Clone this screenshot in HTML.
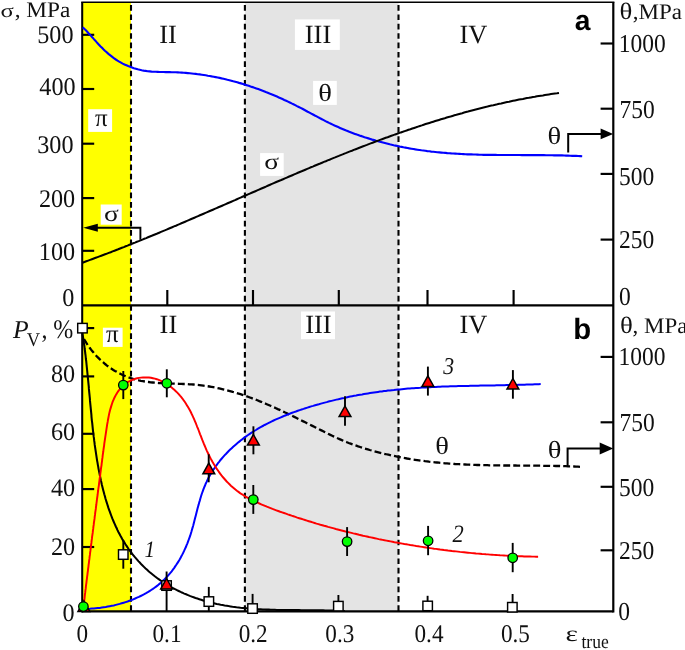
<!DOCTYPE html>
<html><head><meta charset="utf-8"><title>Figure</title>
<style>html,body{margin:0;padding:0;background:#fff}svg{display:block}</style>
</head><body>
<svg width="685" height="650" viewBox="0 0 685 650" text-rendering="geometricPrecision">
<rect width="685" height="650" fill="#fff"/>
<rect x="82.2" y="2.2" width="48.8" height="609.2" fill="#ffff00"/>
<rect x="244.9" y="2.2" width="153.6" height="609.2" fill="#e4e4e4"/>
<rect x="294.9" y="19.4" width="44.9" height="30.5" fill="#fff"/>
<rect x="88.2" y="109.2" width="23.9" height="22.7" fill="#fff"/>
<rect x="313.1" y="80.9" width="23.7" height="24.0" fill="#fff"/>
<rect x="260.1" y="153.1" width="23.6" height="22.8" fill="#fff"/>
<rect x="100.7" y="204.5" width="21.0" height="20.2" fill="#fff"/>
<rect x="301.0" y="311.5" width="34.0" height="27.7" fill="#fff"/>
<rect x="102.9" y="327.7" width="19.7" height="19.2" fill="#fff"/>
<line x1="131.0" y1="5" x2="131.0" y2="611.4" stroke="#000" stroke-width="2.1" stroke-dasharray="5.7 3.68"/>
<line x1="244.9" y1="5" x2="244.9" y2="611.4" stroke="#000" stroke-width="2.1" stroke-dasharray="5.7 3.68"/>
<line x1="398.5" y1="5" x2="398.5" y2="611.4" stroke="#000" stroke-width="2.1" stroke-dasharray="5.7 3.68"/>
<g stroke="#000" stroke-width="2.15" fill="none">
<path d="M81.2 2.2 H614.4" stroke-width="1.5"/>
<path d="M82.2 2.2 V612.5" stroke-width="2.05"/>
<path d="M613.3 2.2 V612.5" stroke-width="2.2"/>
<path d="M82.2 611.4 H613.3" stroke-width="2.2"/>
<path d="M82.2 305.4 H613.3" stroke-width="2.3"/>
<path d="M82.2 34.8 h12"/>
<path d="M82.2 89.0 h12"/>
<path d="M82.2 143.7 h12"/>
<path d="M82.2 198.1 h12"/>
<path d="M82.2 250.8 h12"/>
<path d="M82.2 328.1 h12"/>
<path d="M82.2 376.4 h12"/>
<path d="M82.2 433.8 h12"/>
<path d="M82.2 489.1 h12"/>
<path d="M82.2 547.0 h12"/>
<path d="M613.3 43.5 h-12.7"/>
<path d="M613.3 108.7 h-12.7"/>
<path d="M613.3 173.9 h-12.7"/>
<path d="M613.3 239.6 h-12.7"/>
<path d="M613.3 356.9 h-12.7"/>
<path d="M613.3 422.3 h-12.7"/>
<path d="M613.3 486.8 h-12.7"/>
<path d="M613.3 550.3 h-12.7"/>
<path d="M167.3 305.3 v-15.3"/>
<path d="M253.0 305.3 v-15.3"/>
<path d="M338.8 305.3 v-15.3"/>
<path d="M427.5 305.3 v-15.3"/>
<path d="M513.6 305.3 v-15.3"/>
</g>
<path d="M82.8 27.3 L84.2 28.7 L85.6 30.1 L87.0 31.5 L88.3 33.0 L89.7 34.4 L91.0 35.9 L92.4 37.4 L93.7 38.9 L95.1 40.4 L96.4 41.9 L97.8 43.4 L99.2 44.9 L100.6 46.4 L102.0 47.8 L103.4 49.3 L104.9 50.7 L106.4 52.0 L107.9 53.4 L109.4 54.7 L111.0 55.9 L112.6 57.2 L114.2 58.4 L115.8 59.5 L117.5 60.6 L119.2 61.6 L121.0 62.6 L122.7 63.6 L124.5 64.5 L126.4 65.3 L128.2 66.1 L130.1 66.8 L132.0 67.5 L133.9 68.2 L135.8 68.7 L137.7 69.3 L139.7 69.7 L141.7 70.2 L143.6 70.6 L145.6 70.9 L147.6 71.2 L149.6 71.4 L151.6 71.6 L153.6 71.7 L155.7 71.8 L157.7 71.9 L159.7 72.0 L161.7 72.0 L163.7 72.0 L165.7 72.1 L167.8 72.1 L169.8 72.1 L171.8 72.2 L173.8 72.2 L175.8 72.3 L177.8 72.4 L179.8 72.5 L181.8 72.6 L183.8 72.8 L185.8 72.9 L187.8 73.1 L189.8 73.3 L191.8 73.5 L193.8 73.7 L195.8 73.9 L197.8 74.2 L199.8 74.4 L201.8 74.7 L203.8 75.0 L205.8 75.3 L207.8 75.7 L209.7 76.0 L211.7 76.4 L213.7 76.7 L215.7 77.1 L217.6 77.5 L219.6 77.9 L221.6 78.4 L223.5 78.8 L225.5 79.3 L227.4 79.8 L229.4 80.2 L231.3 80.7 L233.3 81.3 L235.2 81.8 L237.2 82.3 L239.1 82.9 L241.0 83.4 L243.0 84.0 L244.9 84.6 L246.8 85.2 L248.7 85.8 L250.6 86.5 L252.5 87.1 L254.4 87.8 L256.3 88.4 L258.2 89.1 L260.1 89.8 L262.0 90.5 L263.9 91.2 L265.8 92.0 L267.7 92.7 L269.5 93.5 L271.4 94.2 L273.3 95.0 L275.1 95.8 L277.0 96.6 L278.8 97.4 L280.7 98.2 L282.5 99.0 L284.3 99.9 L286.2 100.7 L288.0 101.6 L289.8 102.5 L291.6 103.4 L293.4 104.2 L295.2 105.1 L297.0 106.1 L298.8 107.0 L300.6 107.9 L302.4 108.8 L304.2 109.8 L305.9 110.7 L307.7 111.7 L309.5 112.6 L311.3 113.6 L313.0 114.5 L314.8 115.5 L316.6 116.4 L318.4 117.4 L320.1 118.3 L321.9 119.2 L323.7 120.1 L325.5 121.1 L327.3 122.0 L329.1 122.9 L330.9 123.7 L332.7 124.6 L334.5 125.5 L336.3 126.3 L338.2 127.1 L340.0 127.9 L341.9 128.7 L343.7 129.5 L345.6 130.3 L347.5 131.0 L349.3 131.8 L351.2 132.5 L353.1 133.2 L355.0 133.9 L356.9 134.6 L358.8 135.2 L360.7 135.9 L362.6 136.5 L364.5 137.2 L366.4 137.8 L368.4 138.4 L370.3 139.0 L372.2 139.6 L374.2 140.1 L376.1 140.7 L378.0 141.2 L380.0 141.8 L381.9 142.3 L383.9 142.8 L385.8 143.3 L387.8 143.8 L389.7 144.3 L391.7 144.7 L393.7 145.2 L395.6 145.6 L397.6 146.0 L399.6 146.5 L401.5 146.9 L403.5 147.3 L405.5 147.6 L407.5 148.0 L409.4 148.4 L411.4 148.7 L413.4 149.0 L415.4 149.4 L417.4 149.7 L419.4 150.0 L421.4 150.3 L423.4 150.5 L425.3 150.8 L427.3 151.1 L429.3 151.3 L431.3 151.6 L433.3 151.8 L435.3 152.0 L437.3 152.2 L439.3 152.4 L441.3 152.6 L443.3 152.8 L445.3 152.9 L447.3 153.1 L449.3 153.2 L451.3 153.4 L453.3 153.5 L455.3 153.6 L457.4 153.8 L459.4 153.9 L461.4 154.0 L463.4 154.1 L465.4 154.2 L467.4 154.3 L469.4 154.3 L471.4 154.4 L473.4 154.5 L475.4 154.5 L477.5 154.6 L479.5 154.7 L481.5 154.7 L483.5 154.8 L485.5 154.8 L487.5 154.8 L489.6 154.9 L491.6 154.9 L493.6 154.9 L495.6 154.9 L497.6 155.0 L499.6 155.0 L501.7 155.0 L503.7 155.0 L505.7 155.0 L507.7 155.0 L509.7 155.0 L511.7 155.0 L513.8 155.0 L515.8 155.0 L517.8 155.0 L519.8 155.0 L521.8 155.1 L523.8 155.1 L525.9 155.1 L527.9 155.1 L529.9 155.1 L531.9 155.1 L533.9 155.1 L535.9 155.1 L538.0 155.1 L540.0 155.1 L542.0 155.1 L544.0 155.1 L546.0 155.2 L548.0 155.2 L550.0 155.2 L552.1 155.2 L554.1 155.3 L556.1 155.3 L558.1 155.3 L560.1 155.4 L562.1 155.4 L564.1 155.5 L566.1 155.6 L568.1 155.6 L570.1 155.7 L572.2 155.8 L574.2 155.8 L576.2 155.9 L578.2 156.0 L580.2 156.1 L582.2 156.2" fill="none" stroke="#0000ff" stroke-width="2.15"/>
<path d="M82.5 262.7 L84.4 262.0 L86.3 261.3 L88.2 260.6 L90.1 259.9 L91.9 259.2 L93.8 258.5 L95.7 257.8 L97.6 257.1 L99.5 256.4 L101.3 255.7 L103.2 255.0 L105.1 254.3 L107.0 253.6 L108.8 252.9 L110.7 252.2 L112.6 251.4 L114.5 250.7 L116.3 250.0 L118.2 249.3 L120.1 248.5 L121.9 247.8 L123.8 247.1 L125.7 246.3 L127.5 245.6 L129.4 244.8 L131.3 244.1 L133.1 243.3 L135.0 242.6 L136.9 241.8 L138.7 241.1 L140.6 240.3 L142.4 239.6 L144.3 238.8 L146.2 238.1 L148.0 237.3 L149.9 236.5 L151.7 235.8 L153.6 235.0 L155.5 234.2 L157.3 233.5 L159.2 232.7 L161.0 231.9 L162.9 231.1 L164.7 230.4 L166.6 229.6 L168.5 228.8 L170.3 228.0 L172.2 227.2 L174.0 226.4 L175.9 225.7 L177.7 224.9 L179.6 224.1 L181.4 223.3 L183.3 222.5 L185.1 221.7 L187.0 220.9 L188.8 220.1 L190.7 219.3 L192.5 218.5 L194.4 217.7 L196.2 216.9 L198.1 216.1 L199.9 215.3 L201.8 214.5 L203.6 213.7 L205.5 212.9 L207.3 212.1 L209.2 211.3 L211.0 210.5 L212.9 209.7 L214.7 208.9 L216.6 208.1 L218.4 207.3 L220.3 206.5 L222.1 205.7 L224.0 204.9 L225.8 204.1 L227.6 203.3 L229.5 202.5 L231.3 201.7 L233.2 200.9 L235.0 200.1 L236.9 199.2 L238.7 198.4 L240.6 197.6 L242.4 196.8 L244.3 196.0 L246.1 195.2 L248.0 194.4 L249.8 193.6 L251.7 192.8 L253.5 192.0 L255.4 191.2 L257.2 190.4 L259.0 189.6 L260.9 188.8 L262.7 188.0 L264.6 187.2 L266.4 186.4 L268.3 185.5 L270.1 184.7 L272.0 183.9 L273.8 183.1 L275.7 182.3 L277.5 181.5 L279.4 180.7 L281.2 180.0 L283.1 179.2 L284.9 178.4 L286.8 177.6 L288.6 176.8 L290.5 176.0 L292.4 175.2 L294.2 174.4 L296.1 173.6 L297.9 172.8 L299.8 172.0 L301.6 171.3 L303.5 170.5 L305.3 169.7 L307.2 168.9 L309.1 168.1 L310.9 167.3 L312.8 166.6 L314.6 165.8 L316.5 165.0 L318.3 164.2 L320.2 163.5 L322.1 162.7 L323.9 161.9 L325.8 161.2 L327.6 160.4 L329.5 159.7 L331.4 158.9 L333.2 158.1 L335.1 157.4 L337.0 156.6 L338.8 155.9 L340.7 155.1 L342.6 154.4 L344.4 153.6 L346.3 152.9 L348.2 152.1 L350.0 151.4 L351.9 150.7 L353.8 149.9 L355.7 149.2 L357.5 148.5 L359.4 147.7 L361.3 147.0 L363.2 146.3 L365.0 145.6 L366.9 144.9 L368.8 144.1 L370.7 143.4 L372.6 142.7 L374.4 142.0 L376.3 141.3 L378.2 140.6 L380.1 139.9 L382.0 139.2 L383.9 138.5 L385.7 137.8 L387.6 137.2 L389.5 136.5 L391.4 135.8 L393.3 135.1 L395.2 134.4 L397.1 133.8 L399.0 133.1 L400.9 132.4 L402.8 131.8 L404.7 131.1 L406.6 130.5 L408.5 129.8 L410.4 129.2 L412.3 128.5 L414.2 127.9 L416.1 127.3 L418.0 126.6 L419.9 126.0 L421.8 125.4 L423.7 124.7 L425.6 124.1 L427.5 123.5 L429.4 122.9 L431.4 122.3 L433.3 121.7 L435.2 121.1 L437.1 120.5 L439.0 119.9 L440.9 119.3 L442.9 118.7 L444.8 118.2 L446.7 117.6 L448.6 117.0 L450.6 116.5 L452.5 115.9 L454.4 115.3 L456.4 114.8 L458.3 114.2 L460.2 113.7 L462.2 113.2 L464.1 112.6 L466.0 112.1 L468.0 111.6 L469.9 111.0 L471.9 110.5 L473.8 110.0 L475.7 109.5 L477.7 109.0 L479.6 108.5 L481.6 108.0 L483.5 107.5 L485.5 107.0 L487.5 106.6 L489.4 106.1 L491.4 105.6 L493.3 105.2 L495.3 104.7 L497.3 104.3 L499.2 103.8 L501.2 103.4 L503.2 102.9 L505.1 102.5 L507.1 102.1 L509.1 101.7 L511.1 101.2 L513.0 100.8 L515.0 100.4 L517.0 100.0 L519.0 99.6 L521.0 99.2 L522.9 98.9 L524.9 98.5 L526.9 98.1 L528.9 97.8 L530.9 97.4 L532.9 97.0 L534.9 96.7 L536.9 96.3 L538.9 96.0 L540.9 95.7 L542.9 95.4 L544.9 95.0 L546.9 94.7 L548.9 94.4 L551.0 94.1 L553.0 93.8 L555.0 93.5 L557.0 93.3 L559.0 93.0" fill="none" stroke="#000" stroke-width="2.05"/>
<path d="M140.4 239.6 V227.7 H96" fill="none" stroke="#000" stroke-width="1.9"/>
<path d="M83.2 227.7 L97.8 223.7 V231.7 Z" fill="#000"/>
<path d="M568.2 152.5 V133.9 H602" fill="none" stroke="#000" stroke-width="2"/>
<path d="M613.2 133.9 L600.6 128.6 V139.2 Z" fill="#000"/>
<path d="M84.0 339.1 L85.1 340.9 L86.2 342.7 L87.3 344.4 L88.5 346.1 L89.7 347.8 L90.9 349.4 L92.2 351.1 L93.5 352.6 L94.8 354.2 L96.2 355.7 L97.6 357.2 L99.1 358.6 L100.5 360.0 L102.0 361.4 L103.6 362.7 L105.1 364.0 L106.7 365.3 L108.3 366.5 L110.0 367.7 L111.6 368.8 L113.3 369.9 L115.0 370.9 L116.8 371.9 L118.5 372.9 L120.3 373.8 L122.1 374.7 L123.9 375.5 L125.7 376.3 L127.6 377.0 L129.4 377.7 L131.3 378.3 L133.2 378.9 L135.1 379.4 L137.0 379.9 L138.9 380.4 L140.9 380.8 L142.8 381.1 L144.8 381.5 L146.8 381.8 L148.7 382.0 L150.7 382.3 L152.7 382.5 L154.7 382.7 L156.7 382.8 L158.7 383.0 L160.8 383.1 L162.8 383.2 L164.8 383.3 L166.9 383.4 L168.9 383.5 L170.9 383.6 L173.0 383.6 L175.0 383.7 L177.1 383.7 L179.1 383.8 L181.2 383.9 L183.2 384.0 L185.2 384.0 L187.3 384.1 L189.3 384.3 L191.4 384.4 L193.4 384.5 L195.4 384.7 L197.4 384.9 L199.4 385.1 L201.4 385.3 L203.4 385.6 L205.4 385.9 L207.4 386.2 L209.4 386.5 L211.4 386.8 L213.3 387.2 L215.3 387.6 L217.3 388.0 L219.2 388.4 L221.2 388.8 L223.1 389.3 L225.1 389.8 L227.0 390.3 L229.0 390.8 L230.9 391.3 L232.8 391.9 L234.7 392.4 L236.6 393.0 L238.6 393.6 L240.5 394.2 L242.4 394.8 L244.3 395.5 L246.2 396.1 L248.0 396.8 L249.9 397.5 L251.8 398.2 L253.7 398.9 L255.6 399.6 L257.4 400.3 L259.3 401.1 L261.2 401.8 L263.0 402.6 L264.9 403.4 L266.8 404.2 L268.6 405.0 L270.5 405.8 L272.3 406.6 L274.2 407.4 L276.0 408.2 L277.8 409.1 L279.7 409.9 L281.5 410.8 L283.3 411.6 L285.2 412.5 L287.0 413.3 L288.8 414.2 L290.6 415.1 L292.5 416.0 L294.3 416.9 L296.1 417.8 L297.9 418.7 L299.7 419.6 L301.5 420.5 L303.3 421.4 L305.2 422.3 L307.0 423.2 L308.8 424.1 L310.6 425.0 L312.4 425.9 L314.2 426.8 L316.0 427.7 L317.8 428.6 L319.6 429.5 L321.4 430.4 L323.2 431.3 L325.0 432.2 L326.8 433.1 L328.6 434.0 L330.4 434.9 L332.2 435.7 L334.0 436.6 L335.8 437.4 L337.7 438.3 L339.5 439.1 L341.3 439.9 L343.2 440.7 L345.0 441.5 L346.9 442.2 L348.7 443.0 L350.6 443.7 L352.5 444.4 L354.4 445.1 L356.3 445.7 L358.2 446.4 L360.1 447.0 L362.0 447.7 L363.9 448.3 L365.8 448.8 L367.8 449.4 L369.7 450.0 L371.6 450.5 L373.6 451.1 L375.5 451.6 L377.5 452.1 L379.4 452.6 L381.4 453.1 L383.4 453.6 L385.3 454.0 L387.3 454.5 L389.3 454.9 L391.2 455.4 L393.2 455.8 L395.2 456.2 L397.2 456.6 L399.2 457.0 L401.1 457.4 L403.1 457.8 L405.1 458.1 L407.1 458.5 L409.1 458.8 L411.1 459.2 L413.1 459.5 L415.1 459.8 L417.1 460.1 L419.0 460.4 L421.0 460.7 L423.0 460.9 L425.0 461.2 L427.0 461.4 L429.0 461.7 L431.0 461.9 L433.0 462.1 L435.0 462.3 L437.0 462.5 L439.0 462.7 L441.1 462.9 L443.1 463.1 L445.1 463.3 L447.1 463.4 L449.1 463.6 L451.1 463.7 L453.1 463.8 L455.1 464.0 L457.1 464.1 L459.1 464.2 L461.1 464.3 L463.1 464.4 L465.1 464.5 L467.2 464.6 L469.2 464.7 L471.2 464.8 L473.2 464.8 L475.2 464.9 L477.2 465.0 L479.2 465.0 L481.2 465.1 L483.3 465.1 L485.3 465.2 L487.3 465.2 L489.3 465.3 L491.3 465.3 L493.3 465.3 L495.3 465.4 L497.4 465.4 L499.4 465.4 L501.4 465.4 L503.4 465.5 L505.4 465.5 L507.4 465.5 L509.5 465.5 L511.5 465.5 L513.5 465.5 L515.5 465.5 L517.5 465.6 L519.5 465.6 L521.6 465.6 L523.6 465.6 L525.6 465.6 L527.6 465.6 L529.6 465.6 L531.6 465.6 L533.7 465.7 L535.7 465.7 L537.7 465.7 L539.7 465.7 L541.7 465.7 L543.7 465.8 L545.8 465.8 L547.8 465.8 L549.8 465.8 L551.8 465.9 L553.8 465.9 L555.8 466.0 L557.9 466.0 L559.9 466.0 L561.9 466.1 L563.9 466.2 L565.9 466.2 L567.9 466.3 L569.9 466.4 L571.9 466.4 L574.0 466.5 L576.0 466.6 L578.0 466.7 L580.0 466.8" fill="none" stroke="#000" stroke-width="2.3" stroke-dasharray="6.90 3.09"/>
<path d="M82.4 333.0 L82.7 335.0 L83.0 337.0 L83.3 339.0 L83.6 341.0 L83.9 343.0 L84.2 345.0 L84.5 347.0 L84.7 349.0 L85.0 351.0 L85.2 353.0 L85.5 355.0 L85.7 357.0 L85.9 359.0 L86.2 361.0 L86.4 363.0 L86.6 365.0 L86.8 367.0 L87.0 369.0 L87.2 371.0 L87.4 373.0 L87.6 375.0 L87.8 377.0 L88.0 379.0 L88.2 381.0 L88.4 383.0 L88.6 385.0 L88.8 386.9 L88.9 388.9 L89.1 390.9 L89.3 392.9 L89.5 394.9 L89.7 396.9 L89.9 398.9 L90.0 400.9 L90.2 402.9 L90.4 404.9 L90.6 406.9 L90.8 408.9 L91.0 410.9 L91.2 412.9 L91.4 414.8 L91.5 416.8 L91.7 418.8 L91.9 420.8 L92.2 422.8 L92.4 424.8 L92.6 426.8 L92.8 428.8 L93.0 430.8 L93.3 432.8 L93.5 434.8 L93.7 436.7 L94.0 438.7 L94.2 440.7 L94.5 442.7 L94.7 444.7 L95.0 446.7 L95.3 448.7 L95.6 450.7 L95.9 452.7 L96.2 454.6 L96.5 456.6 L96.8 458.6 L97.1 460.6 L97.5 462.6 L97.8 464.6 L98.2 466.6 L98.5 468.6 L98.9 470.6 L99.3 472.6 L99.7 474.5 L100.1 476.5 L100.5 478.5 L100.9 480.5 L101.4 482.5 L101.8 484.5 L102.3 486.4 L102.8 488.4 L103.3 490.4 L103.8 492.3 L104.3 494.3 L104.9 496.3 L105.4 498.2 L106.0 500.2 L106.6 502.1 L107.2 504.0 L107.8 505.9 L108.4 507.9 L109.1 509.8 L109.8 511.7 L110.5 513.6 L111.2 515.5 L111.9 517.3 L112.6 519.2 L113.4 521.0 L114.2 522.9 L115.0 524.7 L115.8 526.5 L116.7 528.3 L117.5 530.1 L118.4 531.9 L119.4 533.7 L120.3 535.5 L121.3 537.2 L122.2 538.9 L123.2 540.6 L124.3 542.3 L125.3 544.0 L126.4 545.7 L127.5 547.3 L128.6 549.0 L129.8 550.6 L131.0 552.2 L132.2 553.8 L133.4 555.3 L134.7 556.9 L136.0 558.4 L137.3 559.9 L138.6 561.4 L140.0 562.8 L141.3 564.3 L142.8 565.7 L144.2 567.1 L145.6 568.5 L147.1 569.8 L148.6 571.2 L150.1 572.5 L151.7 573.8 L153.2 575.0 L154.8 576.3 L156.4 577.5 L158.0 578.7 L159.7 579.9 L161.3 581.0 L163.0 582.1 L164.7 583.2 L166.4 584.3 L168.1 585.3 L169.8 586.3 L171.6 587.3 L173.4 588.3 L175.1 589.2 L176.9 590.1 L178.7 591.0 L180.6 591.9 L182.4 592.7 L184.2 593.6 L186.1 594.3 L188.0 595.1 L189.8 595.9 L191.7 596.6 L193.6 597.3 L195.5 598.0 L197.4 598.6 L199.3 599.2 L201.2 599.8 L203.1 600.4 L205.1 601.0 L207.0 601.5 L208.9 602.0 L210.9 602.5 L212.8 603.0 L214.8 603.4 L216.7 603.9 L218.7 604.3 L220.6 604.7 L222.6 605.0 L224.6 605.4 L226.6 605.7 L228.6 606.1 L230.5 606.4 L232.5 606.7 L234.5 606.9 L236.5 607.2 L238.5 607.4 L240.5 607.7 L242.5 607.9 L244.5 608.1 L246.5 608.3 L248.5 608.5 L250.6 608.6 L252.6 608.8 L254.6 608.9 L256.6 609.0 L258.6 609.2 L260.7 609.3 L262.7 609.4 L264.7 609.5 L266.7 609.6 L268.8 609.6 L270.8 609.7 L272.8 609.8 L274.8 609.8 L276.9 609.9 L278.9 609.9 L280.9 610.0 L282.9 610.0 L285.0 610.0 L287.0 610.1 L289.0 610.1 L291.0 610.1 L293.1 610.1 L295.1 610.1 L297.1 610.1 L299.1 610.1 L301.2 610.2 L303.2 610.2 L305.2 610.2 L307.2 610.2 L309.2 610.2 L311.2 610.2 L313.2 610.2 L315.2 610.2 L317.2 610.3 L319.2 610.3 L321.2 610.3 L323.2 610.3 L325.2 610.4 L327.2 610.4 L329.1 610.5 L331.1 610.5 L333.1 610.6 L335.0 610.6 L337.0 610.7 L339.0 610.8 L340.9 610.9 L342.9 611.0 L344.8 611.1" fill="none" stroke="#000" stroke-width="2.05"/>
<path d="M84.1 609.0 L86.0 608.9 L87.9 608.9 L89.9 608.8 L91.9 608.6 L93.8 608.5 L95.8 608.3 L97.8 608.1 L99.8 607.9 L101.8 607.6 L103.8 607.3 L105.8 607.0 L107.8 606.6 L109.8 606.2 L111.8 605.8 L113.8 605.4 L115.8 604.9 L117.8 604.4 L119.7 603.9 L121.7 603.3 L123.7 602.7 L125.6 602.1 L127.6 601.5 L129.5 600.8 L131.4 600.1 L133.3 599.3 L135.2 598.5 L137.0 597.7 L138.9 596.9 L140.7 596.0 L142.5 595.1 L144.3 594.2 L146.1 593.2 L147.8 592.2 L149.5 591.1 L151.2 590.0 L152.9 588.9 L154.5 587.8 L156.1 586.6 L157.7 585.4 L159.2 584.1 L160.8 582.8 L162.2 581.5 L163.7 580.1 L165.1 578.7 L166.5 577.3 L167.8 575.8 L169.1 574.3 L170.4 572.8 L171.7 571.3 L172.9 569.7 L174.1 568.1 L175.2 566.4 L176.3 564.8 L177.4 563.1 L178.5 561.4 L179.5 559.7 L180.5 557.9 L181.5 556.1 L182.4 554.4 L183.3 552.6 L184.2 550.7 L185.0 548.9 L185.9 547.0 L186.6 545.2 L187.4 543.3 L188.1 541.4 L188.8 539.5 L189.5 537.6 L190.2 535.7 L190.8 533.7 L191.4 531.8 L191.9 529.9 L192.5 527.9 L193.1 526.0 L193.6 524.0 L194.1 522.1 L194.6 520.1 L195.1 518.1 L195.6 516.2 L196.1 514.2 L196.6 512.2 L197.1 510.3 L197.6 508.3 L198.1 506.4 L198.7 504.4 L199.2 502.5 L199.8 500.6 L200.3 498.7 L200.9 496.7 L201.5 494.8 L202.1 493.0 L202.8 491.1 L203.5 489.2 L204.2 487.4 L205.0 485.5 L205.7 483.7 L206.6 481.9 L207.4 480.1 L208.3 478.3 L209.3 476.6 L210.2 474.8 L211.3 473.1 L212.3 471.4 L213.4 469.7 L214.5 468.1 L215.6 466.4 L216.8 464.8 L218.0 463.2 L219.3 461.6 L220.5 460.0 L221.8 458.5 L223.2 456.9 L224.5 455.4 L225.9 454.0 L227.3 452.5 L228.7 451.0 L230.2 449.6 L231.7 448.2 L233.2 446.8 L234.7 445.5 L236.2 444.2 L237.8 442.8 L239.3 441.6 L240.9 440.3 L242.5 439.1 L244.1 437.8 L245.8 436.6 L247.4 435.5 L249.1 434.3 L250.8 433.2 L252.5 432.1 L254.2 431.0 L255.9 430.0 L257.6 428.9 L259.3 427.9 L261.1 426.9 L262.8 426.0 L264.6 425.0 L266.4 424.1 L268.2 423.2 L269.9 422.3 L271.8 421.4 L273.6 420.5 L275.4 419.7 L277.2 418.9 L279.1 418.1 L280.9 417.3 L282.8 416.5 L284.6 415.7 L286.5 415.0 L288.4 414.3 L290.2 413.5 L292.1 412.8 L294.0 412.1 L295.9 411.5 L297.8 410.8 L299.7 410.1 L301.6 409.5 L303.5 408.9 L305.4 408.2 L307.4 407.6 L309.3 407.0 L311.2 406.4 L313.1 405.9 L315.1 405.3 L317.0 404.7 L318.9 404.2 L320.9 403.6 L322.8 403.1 L324.7 402.6 L326.7 402.1 L328.6 401.5 L330.6 401.1 L332.5 400.6 L334.5 400.1 L336.4 399.6 L338.4 399.2 L340.4 398.7 L342.3 398.3 L344.3 397.9 L346.3 397.4 L348.2 397.0 L350.2 396.6 L352.2 396.2 L354.1 395.8 L356.1 395.5 L358.1 395.1 L360.1 394.7 L362.1 394.4 L364.0 394.0 L366.0 393.7 L368.0 393.4 L370.0 393.1 L372.0 392.8 L374.0 392.5 L376.0 392.2 L378.0 391.9 L379.9 391.6 L381.9 391.4 L383.9 391.1 L385.9 390.9 L387.9 390.6 L389.9 390.4 L391.9 390.2 L393.9 390.0 L395.9 389.7 L397.9 389.5 L399.9 389.4 L401.9 389.2 L403.9 389.0 L405.9 388.8 L407.9 388.6 L409.9 388.5 L411.9 388.3 L413.9 388.2 L415.9 388.0 L418.0 387.9 L420.0 387.8 L422.0 387.6 L424.0 387.5 L426.0 387.4 L428.0 387.3 L430.0 387.2 L432.0 387.1 L434.0 387.0 L436.0 386.9 L438.1 386.8 L440.1 386.7 L442.1 386.6 L444.1 386.6 L446.1 386.5 L448.1 386.4 L450.1 386.3 L452.1 386.3 L454.2 386.2 L456.2 386.2 L458.2 386.1 L460.2 386.1 L462.2 386.0 L464.2 386.0 L466.3 385.9 L468.3 385.9 L470.3 385.8 L472.3 385.8 L474.3 385.7 L476.3 385.7 L478.3 385.7 L480.4 385.6 L482.4 385.6 L484.4 385.5 L486.4 385.5 L488.4 385.5 L490.4 385.4 L492.4 385.4 L494.5 385.4 L496.5 385.3 L498.5 385.3 L500.5 385.2 L502.5 385.2 L504.5 385.2 L506.5 385.1 L508.5 385.1 L510.6 385.0 L512.6 385.0 L514.6 384.9 L516.6 384.9 L518.6 384.8 L520.6 384.8 L522.6 384.7 L524.6 384.7 L526.6 384.6 L528.6 384.6 L530.6 384.5 L532.6 384.4 L534.7 384.3 L536.7 384.3 L538.7 384.2 L540.7 384.1" fill="none" stroke="#0000ff" stroke-width="2.0"/>
<path d="M83.5 606.6 L83.7 604.6 L84.0 602.6 L84.2 600.6 L84.5 598.7 L84.7 596.7 L84.9 594.7 L85.2 592.7 L85.4 590.7 L85.7 588.7 L85.9 586.7 L86.1 584.8 L86.4 582.8 L86.6 580.8 L86.9 578.8 L87.1 576.8 L87.4 574.8 L87.6 572.8 L87.9 570.8 L88.1 568.8 L88.4 566.8 L88.6 564.8 L88.9 562.8 L89.1 560.9 L89.4 558.9 L89.6 556.9 L89.9 554.9 L90.1 552.9 L90.4 550.9 L90.6 548.9 L90.9 546.9 L91.1 544.9 L91.4 542.9 L91.6 540.9 L91.9 538.9 L92.1 536.9 L92.4 534.9 L92.7 532.9 L92.9 530.9 L93.2 528.9 L93.4 526.9 L93.7 524.9 L93.9 522.9 L94.2 520.9 L94.5 518.9 L94.7 516.9 L95.0 514.9 L95.2 512.9 L95.5 510.9 L95.8 508.9 L96.0 506.9 L96.3 505.0 L96.5 503.0 L96.8 501.0 L97.0 499.0 L97.3 497.0 L97.6 495.0 L97.8 493.0 L98.1 491.0 L98.3 489.0 L98.6 487.1 L98.9 485.1 L99.1 483.1 L99.4 481.1 L99.6 479.1 L99.9 477.1 L100.2 475.2 L100.4 473.2 L100.7 471.2 L100.9 469.2 L101.2 467.2 L101.5 465.3 L101.7 463.3 L102.0 461.3 L102.2 459.4 L102.5 457.4 L102.7 455.4 L103.0 453.4 L103.3 451.5 L103.5 449.5 L103.8 447.5 L104.1 445.6 L104.3 443.6 L104.6 441.6 L104.9 439.6 L105.2 437.7 L105.5 435.7 L105.8 433.7 L106.1 431.7 L106.4 429.7 L106.7 427.7 L107.0 425.7 L107.3 423.7 L107.7 421.7 L108.0 419.7 L108.4 417.7 L108.8 415.6 L109.2 413.6 L109.7 411.6 L110.2 409.6 L110.8 407.6 L111.4 405.6 L112.0 403.7 L112.7 401.7 L113.5 399.8 L114.3 398.0 L115.2 396.2 L116.2 394.4 L117.2 392.7 L118.3 391.1 L119.5 389.5 L120.8 388.0 L122.1 386.6 L123.5 385.3 L125.0 384.0 L126.5 382.9 L128.2 381.9 L129.9 381.0 L131.6 380.2 L133.4 379.5 L135.3 378.8 L137.2 378.3 L139.1 377.9 L141.0 377.6 L143.0 377.5 L145.0 377.4 L147.0 377.4 L148.9 377.5 L150.9 377.8 L152.9 378.2 L154.8 378.6 L156.8 379.2 L158.7 379.9 L160.5 380.7 L162.4 381.6 L164.2 382.5 L166.0 383.6 L167.7 384.7 L169.4 385.9 L171.1 387.1 L172.7 388.4 L174.3 389.8 L175.8 391.2 L177.3 392.6 L178.7 394.1 L180.0 395.7 L181.3 397.2 L182.6 398.8 L183.7 400.4 L184.9 402.0 L186.0 403.7 L187.0 405.4 L188.0 407.1 L189.0 408.8 L190.0 410.5 L190.9 412.3 L191.7 414.0 L192.6 415.8 L193.4 417.6 L194.2 419.4 L195.0 421.3 L195.8 423.1 L196.5 425.0 L197.2 426.8 L198.0 428.7 L198.7 430.5 L199.4 432.4 L200.1 434.3 L200.9 436.2 L201.6 438.1 L202.3 439.9 L203.1 441.8 L203.8 443.7 L204.6 445.5 L205.4 447.4 L206.2 449.3 L207.0 451.1 L207.9 453.0 L208.8 454.8 L209.7 456.6 L210.6 458.4 L211.6 460.2 L212.6 462.0 L213.6 463.7 L214.7 465.5 L215.7 467.2 L216.8 468.9 L218.0 470.5 L219.1 472.2 L220.3 473.8 L221.5 475.4 L222.8 477.0 L224.1 478.5 L225.4 480.0 L226.7 481.5 L228.1 482.9 L229.5 484.3 L230.9 485.7 L232.4 487.0 L233.9 488.3 L235.4 489.6 L236.9 490.8 L238.5 491.9 L240.1 493.1 L241.8 494.2 L243.5 495.2 L245.1 496.3 L246.9 497.3 L248.6 498.2 L250.4 499.2 L252.1 500.1 L253.9 501.0 L255.7 501.9 L257.6 502.7 L259.4 503.5 L261.2 504.3 L263.1 505.1 L265.0 505.9 L266.9 506.7 L268.7 507.4 L270.6 508.1 L272.5 508.9 L274.4 509.6 L276.3 510.3 L278.2 511.0 L280.2 511.7 L282.1 512.3 L284.0 513.0 L285.9 513.7 L287.8 514.4 L289.7 515.0 L291.6 515.7 L293.5 516.3 L295.4 516.9 L297.3 517.6 L299.2 518.2 L301.2 518.8 L303.1 519.4 L305.0 520.0 L306.9 520.6 L308.8 521.2 L310.8 521.8 L312.7 522.4 L314.6 523.0 L316.5 523.6 L318.4 524.1 L320.4 524.7 L322.3 525.2 L324.2 525.8 L326.2 526.3 L328.1 526.9 L330.0 527.4 L331.9 527.9 L333.9 528.4 L335.8 529.0 L337.7 529.5 L339.7 530.0 L341.6 530.5 L343.6 531.0 L345.5 531.5 L347.4 531.9 L349.4 532.4 L351.3 532.9 L353.3 533.4 L355.2 533.8 L357.2 534.3 L359.1 534.8 L361.1 535.2 L363.0 535.7 L365.0 536.1 L366.9 536.5 L368.9 537.0 L370.8 537.4 L372.8 537.8 L374.8 538.2 L376.7 538.6 L378.7 539.1 L380.7 539.5 L382.6 539.9 L384.6 540.3 L386.5 540.6 L388.5 541.0 L390.5 541.4 L392.5 541.8 L394.4 542.2 L396.4 542.5 L398.4 542.9 L400.4 543.3 L402.3 543.6 L404.3 544.0 L406.3 544.3 L408.3 544.6 L410.2 545.0 L412.2 545.3 L414.2 545.6 L416.2 546.0 L418.2 546.3 L420.2 546.6 L422.2 546.9 L424.1 547.2 L426.1 547.5 L428.1 547.8 L430.1 548.1 L432.1 548.4 L434.1 548.7 L436.1 548.9 L438.1 549.2 L440.1 549.5 L442.1 549.7 L444.0 550.0 L446.0 550.2 L448.0 550.5 L450.0 550.7 L452.0 551.0 L454.0 551.2 L456.0 551.4 L458.0 551.6 L460.0 551.9 L462.0 552.1 L464.0 552.3 L466.0 552.5 L468.0 552.7 L470.0 552.9 L472.0 553.1 L474.0 553.3 L476.0 553.5 L478.0 553.6 L480.0 553.8 L482.0 554.0 L484.0 554.1 L486.0 554.3 L488.0 554.4 L490.0 554.6 L492.0 554.7 L494.0 554.9 L496.0 555.0 L498.0 555.1 L500.0 555.3 L502.0 555.4 L504.0 555.5 L506.0 555.6 L508.0 555.7 L510.0 555.8 L512.0 555.9 L514.0 556.0 L516.0 556.1 L518.1 556.2 L520.1 556.2 L522.1 556.3 L524.1 556.4 L526.1 556.4 L528.1 556.5 L530.1 556.5 L532.1 556.6 L534.1 556.6 L536.1 556.7 L538.1 556.7" fill="none" stroke="#ff0000" stroke-width="1.95"/>
<path d="M567.6 466.4 V448.5 H602" fill="none" stroke="#000" stroke-width="2"/>
<path d="M613.2 448.5 L599.7 442.5 V454.5 Z" fill="#000"/>
<line x1="123.3" y1="540.2" x2="123.3" y2="568.7" stroke="#000" stroke-width="1.9"/>
<rect x="118.5" y="549.8" width="9.5" height="9.5" fill="#fff" stroke="#000" stroke-width="1.45"/>
<line x1="166.6" y1="571.5" x2="166.6" y2="611.0" stroke="#000" stroke-width="1.9"/>
<rect x="161.8" y="580.8" width="9.5" height="9.5" fill="#fff" stroke="#000" stroke-width="1.45"/>
<line x1="208.8" y1="586.9" x2="208.8" y2="611.0" stroke="#000" stroke-width="1.9"/>
<rect x="204.1" y="596.8" width="9.5" height="9.5" fill="#fff" stroke="#000" stroke-width="1.45"/>
<line x1="252.6" y1="593.9" x2="252.6" y2="611.0" stroke="#000" stroke-width="1.9"/>
<rect x="247.8" y="603.8" width="9.5" height="9.5" fill="#fff" stroke="#000" stroke-width="1.45"/>
<line x1="338.4" y1="595.0" x2="338.4" y2="611.0" stroke="#000" stroke-width="1.9"/>
<rect x="333.6" y="601.4" width="9.5" height="9.5" fill="#fff" stroke="#000" stroke-width="1.45"/>
<line x1="427.6" y1="595.8" x2="427.6" y2="611.0" stroke="#000" stroke-width="1.9"/>
<rect x="422.9" y="601.2" width="9.5" height="9.5" fill="#fff" stroke="#000" stroke-width="1.45"/>
<line x1="512.6" y1="594.0" x2="512.6" y2="611.0" stroke="#000" stroke-width="1.9"/>
<rect x="507.6" y="602.5" width="9.5" height="9.5" fill="#fff" stroke="#000" stroke-width="1.45"/>
<rect x="77.7" y="323.4" width="9.5" height="9.5" fill="#fff" stroke="#000" stroke-width="1.45"/>
<path d="M83.9 600.9 L89.8 611.5 L78.0 611.5 Z" fill="#ff0000" stroke="#000" stroke-width="1.5"/>
<path d="M166.6 578.5 L172.5 589.1 L160.7 589.1 Z" fill="#ff0000" stroke="#000" stroke-width="1.5"/>
<line x1="208.7" y1="454.3" x2="208.7" y2="482.3" stroke="#000" stroke-width="1.9"/>
<path d="M208.8 463.1 L214.7 473.8 L202.9 473.8 Z" fill="#ff0000" stroke="#000" stroke-width="1.5"/>
<line x1="253.4" y1="426.3" x2="253.4" y2="454.3" stroke="#000" stroke-width="1.9"/>
<path d="M253.4 434.5 L259.3 445.1 L247.5 445.1 Z" fill="#ff0000" stroke="#000" stroke-width="1.5"/>
<line x1="345.0" y1="396.2" x2="345.0" y2="425.7" stroke="#000" stroke-width="1.9"/>
<path d="M345.0 406.0 L350.9 416.6 L339.1 416.6 Z" fill="#ff0000" stroke="#000" stroke-width="1.5"/>
<line x1="427.9" y1="366.6" x2="427.9" y2="395.6" stroke="#000" stroke-width="1.9"/>
<path d="M427.9 375.8 L433.8 386.4 L422.0 386.4 Z" fill="#ff0000" stroke="#000" stroke-width="1.5"/>
<line x1="512.9" y1="370.1" x2="512.9" y2="398.7" stroke="#000" stroke-width="1.9"/>
<path d="M512.9 378.5 L518.8 389.1 L507.0 389.1 Z" fill="#ff0000" stroke="#000" stroke-width="1.5"/>
<line x1="123.3" y1="371.0" x2="123.3" y2="399.1" stroke="#000" stroke-width="1.9"/>
<circle cx="123.3" cy="385.1" r="4.75" fill="#00ff00" stroke="#000" stroke-width="1.3"/>
<line x1="166.8" y1="369.3" x2="166.8" y2="397.3" stroke="#000" stroke-width="1.9"/>
<circle cx="166.8" cy="383.3" r="4.75" fill="#00ff00" stroke="#000" stroke-width="1.3"/>
<line x1="253.3" y1="485.0" x2="253.3" y2="513.9" stroke="#000" stroke-width="1.9"/>
<circle cx="253.3" cy="499.6" r="4.75" fill="#00ff00" stroke="#000" stroke-width="1.3"/>
<line x1="347.1" y1="527.1" x2="347.1" y2="556.0" stroke="#000" stroke-width="1.9"/>
<circle cx="347.1" cy="541.6" r="4.75" fill="#00ff00" stroke="#000" stroke-width="1.3"/>
<line x1="428.1" y1="525.9" x2="428.1" y2="555.2" stroke="#000" stroke-width="1.9"/>
<circle cx="428.1" cy="540.8" r="4.75" fill="#00ff00" stroke="#000" stroke-width="1.3"/>
<line x1="512.7" y1="542.9" x2="512.7" y2="572.2" stroke="#000" stroke-width="1.9"/>
<circle cx="512.7" cy="557.8" r="4.75" fill="#00ff00" stroke="#000" stroke-width="1.3"/>
<circle cx="83.4" cy="606.6" r="4.75" fill="#00ff00" stroke="#000" stroke-width="1.3"/>
<g font-family="'Liberation Serif', serif" font-size="23.5" fill="#111">
<text transform="translate(73.5 43.0) scale(1.000 1.050)" text-anchor="end" font-size="24.2">500</text>
<text transform="translate(75.6 94.7) scale(1.000 1.050)" text-anchor="end" font-size="24.2">400</text>
<text transform="translate(73.5 152.8) scale(1.000 1.050)" text-anchor="end" font-size="24.2">300</text>
<text transform="translate(75.2 207.3) scale(1.000 1.050)" text-anchor="end" font-size="24.2">200</text>
<text transform="translate(75.1 259.8) scale(1.000 1.050)" text-anchor="end" font-size="24.2">100</text>
<text transform="translate(74.4 306.0) scale(1.000 1.050)" text-anchor="end" font-size="24.2">0</text>
<text transform="translate(7.1 16.5) scale(1.300 1)" text-anchor="middle" font-size="19.0">σ</text>
<text transform="translate(14.7 16.5) scale(1.000 0.950)" text-anchor="start" font-size="23.3">, MPa</text>
<text transform="translate(618.8 52.4) scale(1.000 1.100)" text-anchor="start" >1000</text>
<text transform="translate(619.4 117.8) scale(1.000 1.100)" text-anchor="start" >750</text>
<text transform="translate(618.9 185.4) scale(1.000 1.100)" text-anchor="start" >500</text>
<text transform="translate(618.9 247.6) scale(1.000 1.100)" text-anchor="start" >250</text>
<text transform="translate(619.0 305.2) scale(1.000 1.100)" text-anchor="start" >0</text>
<text transform="translate(625.8 18.8) scale(1.140 1)" text-anchor="middle" font-size="23.5">θ</text>
<text transform="translate(632.8 18.8) scale(1.000 0.970)" text-anchor="start" font-size="23">,MPa</text>
<text transform="translate(75.2 381.9) scale(1.000 1.040)" text-anchor="end" font-size="24.2">80</text>
<text transform="translate(75.2 439.9) scale(1.000 1.040)" text-anchor="end" font-size="24.2">60</text>
<text transform="translate(75.2 496.0) scale(1.000 1.040)" text-anchor="end" font-size="24.2">40</text>
<text transform="translate(75.2 555.3) scale(1.000 1.040)" text-anchor="end" font-size="24.2">20</text>
<text transform="translate(74.6 621.3) scale(1.000 1.040)" text-anchor="end" font-size="24.2">0</text>
<text transform="translate(618.4 364.6) scale(1.000 1.100)" text-anchor="start" >1000</text>
<text transform="translate(619.4 430.6) scale(1.000 1.100)" text-anchor="start" >750</text>
<text transform="translate(618.9 496.0) scale(1.000 1.100)" text-anchor="start" >500</text>
<text transform="translate(618.9 559.1) scale(1.000 1.100)" text-anchor="start" >250</text>
<text transform="translate(618.3 619.7) scale(1.000 1.100)" text-anchor="start" >0</text>
<text transform="translate(626.3 332.5) scale(1.140 1)" text-anchor="middle" font-size="23.5">θ</text>
<text transform="translate(632.5 332.5) scale(1.000 0.970)" text-anchor="start" font-size="23">, MPa</text>
<text transform="translate(82.3 642.4) scale(1.000 1.100)" text-anchor="middle" font-size="23.2">0</text>
<text transform="translate(167.0 642.4) scale(1.000 1.100)" text-anchor="middle" font-size="23.2">0.1</text>
<text transform="translate(253.2 642.4) scale(1.000 1.100)" text-anchor="middle" font-size="23.2">0.2</text>
<text transform="translate(339.8 642.4) scale(1.000 1.100)" text-anchor="middle" font-size="23.2">0.3</text>
<text transform="translate(429.0 642.4) scale(1.000 1.100)" text-anchor="middle" font-size="23.2">0.4</text>
<text transform="translate(515.4 642.4) scale(1.000 1.100)" text-anchor="middle" font-size="23.2">0.5</text>
<text transform="translate(168.1 42.8) scale(1.000 1.000)" text-anchor="middle" font-size="26.4">II</text>
<text transform="translate(318.0 42.8) scale(1.000 1.000)" text-anchor="middle" font-size="26.4">III</text>
<text transform="translate(473.5 42.8) scale(1.000 1.000)" text-anchor="middle" font-size="26.4">IV</text>
<text transform="translate(168.4 333.4) scale(1.000 1.000)" text-anchor="middle" font-size="26.4">II</text>
<text transform="translate(318.4 333.4) scale(1.000 1.000)" text-anchor="middle" font-size="26.4">III</text>
<text transform="translate(473.5 333.4) scale(1.000 1.000)" text-anchor="middle" font-size="26.4">IV</text>
<text transform="translate(101.2 126.0) scale(1.000 1)" text-anchor="middle" font-size="25.0">π</text>
<text transform="translate(112.3 341.8) scale(1.000 1)" text-anchor="middle" font-size="25.0">π</text>
<text transform="translate(325.0 101.4) scale(1.160 1)" text-anchor="middle" font-size="24.6">θ</text>
<text transform="translate(271.7 169.1) scale(1.220 1)" text-anchor="middle" font-size="22.5">σ</text>
<text transform="translate(111.4 220.7) scale(1.220 1)" text-anchor="middle" font-size="22.5">σ</text>
<text transform="translate(554.4 144.1) scale(1.160 1)" text-anchor="middle" font-size="24.6">θ</text>
<text transform="translate(442.0 453.8) scale(1.160 1)" text-anchor="middle" font-size="24.6">θ</text>
<text transform="translate(554.6 458.1) scale(1.160 1)" text-anchor="middle" font-size="24.6">θ</text>
<text transform="translate(149.8 557.0) scale(1.000 1.110)" text-anchor="middle" font-style="italic" font-size="21">1</text>
<text transform="translate(458.0 541.6) scale(1.000 1.110)" text-anchor="middle" font-style="italic" font-size="22.5">2</text>
<text transform="translate(448.7 373.7) scale(1.000 1.110)" text-anchor="middle" font-style="italic" font-size="21.8">3</text>
<text transform="translate(13.1 338.2) scale(1.000 1.000)" text-anchor="start" font-style="italic" font-size="25.7">P</text>
<text transform="translate(26.8 345.6) scale(1.000 1.050)" text-anchor="start" font-size="18.5">V</text>
<text transform="translate(41.6 338.4) scale(1.000 1.100)" text-anchor="start" font-size="24">,</text>
<text transform="translate(53.2 338.4) scale(1.000 1.120)" text-anchor="start" font-size="24">%</text>
<text transform="translate(571.8 640.9) scale(1.320 1)" text-anchor="middle" font-size="22.3">ε</text>
<text transform="translate(581.5 648.0) scale(1.000 1.110)" text-anchor="start" font-size="17.5">true</text>
</g>
<g font-family="'Liberation Sans', sans-serif" font-weight="bold" font-size="29.3" fill="#000">
<text x="574.8" y="30.1" font-size="28.2">a</text>
<text x="573.3" y="338.7">b</text>
</g>
</svg>
</body></html>
